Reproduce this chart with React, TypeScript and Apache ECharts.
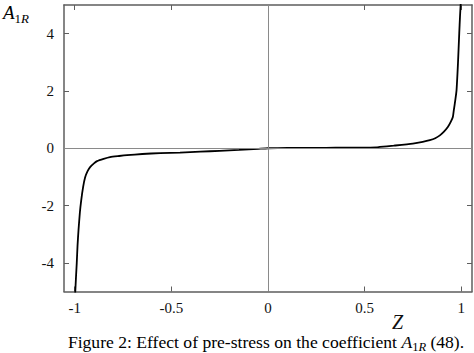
import React, { useEffect, useRef } from "react";
import * as echarts from "echarts";

const zValues = [
  -0.997, -0.993, -0.989, -0.985, -0.98, -0.973, -0.966, -0.956, -0.946, -0.933,
  -0.92, -0.9, -0.884, -0.85, -0.817, -0.77, -0.729, -0.65, -0.558, -0.455,
  -0.35, -0.25, -0.15, -0.05, 0, 0.1, 0.2, 0.3, 0.4, 0.5,
  0.56, 0.579, 0.65, 0.749, 0.8, 0.837, 0.865, 0.889, 0.91, 0.93,
  0.945, 0.956, 0.961, 0.968, 0.975, 0.982, 0.989, 0.993, 0.997,
];
const aValues = [
  -5.05, -4.5, -4.0, -3.4, -2.86, -2.25, -1.82, -1.35, -1.02, -0.8,
  -0.66, -0.53, -0.45, -0.37, -0.31, -0.27, -0.24, -0.2, -0.17, -0.15,
  -0.12, -0.09, -0.06, -0.02, 0, 0.01, 0.01, 0.015, 0.02, 0.02,
  0.03, 0.045, 0.09, 0.16, 0.22, 0.28, 0.35, 0.45, 0.58, 0.74,
  0.92, 1.09, 1.33, 1.65, 2.02, 2.9, 4.01, 4.6, 5.1,
];
const xTicks = [-1, -0.5, 0, 0.5, 1];
const yTicks = [-4, -2, 0, 2, 4];

const serif = "Liberation Serif";
const frameColor = "#5e5e5e";
const ink = "#111";

export default function App() {
  const ref = useRef<HTMLDivElement>(null);
  useEffect(() => {
    if (!ref.current) return;
    const chart = echarts.init(ref.current, null, { renderer: "svg" });
    const data = zValues.map((z, i) => [z, aValues[i]]);
    const tickStyle = { show: true, inside: true, length: 5, lineStyle: { color: frameColor, width: 1 } };
    const baseX = {
      type: "value" as const,
      min: -1.055,
      max: 1.055,
      splitLine: { show: false },
      axisLine: { show: true, onZero: false, lineStyle: { color: frameColor, width: 1.5 } },
    };
    const baseY = {
      type: "value" as const,
      min: -5,
      max: 5,
      splitLine: { show: false },
      axisLine: { show: true, onZero: false, lineStyle: { color: frameColor, width: 1.5 } },
    };
    chart.setOption({
      animation: false,
      backgroundColor: "#ffffff",
      textStyle: { fontFamily: serif },
      grid: { left: 64, right: 2, top: 5, bottom: 61.5, containLabel: false },
      xAxis: [
        {
          ...baseX,
          position: "bottom",
          axisTick: { ...tickStyle, customValues: xTicks },
          axisLabel: {
            customValues: xTicks,
            margin: 9,
            fontFamily: serif,
            fontSize: 15,
            color: ink,
            formatter: (v: number) => String(v),
          },
        },
        {
          ...baseX,
          position: "top",
          axisTick: { ...tickStyle, customValues: xTicks },
          axisLabel: { show: false },
        },
      ],
      yAxis: [
        {
          ...baseY,
          position: "left",
          axisTick: { ...tickStyle, customValues: yTicks },
          axisLabel: {
            customValues: yTicks,
            margin: 10,
            fontFamily: serif,
            fontSize: 15,
            color: ink,
            formatter: (v: number) => String(v),
          },
        },
        {
          ...baseY,
          position: "right",
          axisTick: { ...tickStyle, customValues: yTicks },
          axisLabel: { show: false },
        },
      ],
      series: [
        {
          type: "line",
          data,
          showSymbol: false,
          smooth: 0.2,
          clip: true,
          lineStyle: { color: "#000", width: 1.8 },
          markLine: {
            silent: true,
            symbol: "none",
            label: { show: false },
            lineStyle: { color: "#8a8a8a", width: 1, type: "solid" },
            data: [{ xAxis: 0 }, { yAxis: 0 }],
          },
          z: 3,
        },
      ],
      graphic: [
        {
          type: "text",
          left: 3,
          top: 3,
          style: {
            rich: {
              a: { fontFamily: serif, fontStyle: "italic", fontSize: 19, color: ink, lineHeight: 24, verticalAlign: "middle" },
              n: { fontFamily: serif, fontSize: 13, color: ink, lineHeight: 24, verticalAlign: "bottom" },
              r: { fontFamily: serif, fontStyle: "italic", fontSize: 13, color: ink, lineHeight: 24, verticalAlign: "bottom" },
            },
            text: "{a|A}{n|1}{r|R}",
          },
        },
        {
          type: "text",
          left: 392,
          top: 312,
          style: {
            text: "Z",
            fontFamily: serif,
            fontStyle: "italic",
            fontSize: 20,
            fill: ink,
          },
        },
        {
          type: "text",
          x: 266,
          y: 342,
          style: {
            align: "center",
            verticalAlign: "middle",
            rich: {
              t: { fontFamily: serif, fontSize: 17.6, color: ink, lineHeight: 22, verticalAlign: "middle" },
              a: { fontFamily: serif, fontStyle: "italic", fontSize: 17.6, color: ink, lineHeight: 22, verticalAlign: "middle" },
              n: { fontFamily: serif, fontSize: 12.5, color: ink, lineHeight: 22, verticalAlign: "bottom" },
              r: { fontFamily: serif, fontStyle: "italic", fontSize: 12.5, color: ink, lineHeight: 22, verticalAlign: "bottom" },
            },
            text: "{t|Figure 2: Effect of pre-stress on the coefficient }{a|A}{n|1}{r|R}{t| (48).}",
          },
        },
      ],
    });
    return () => chart.dispose();
  }, []);
  return <div ref={ref} style={{ width: 474, height: 353, position: "absolute", left: 0, top: 0 }} />;
}
